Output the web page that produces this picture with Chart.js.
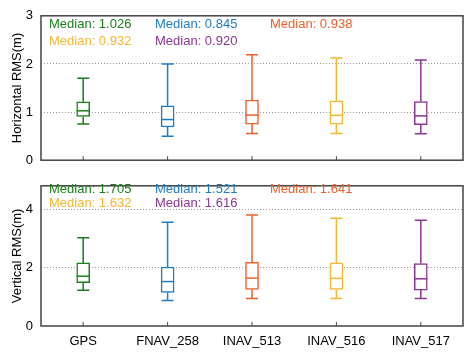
<!DOCTYPE html>
<html>
<head>
<meta charset="utf-8">
<script src="https://cdn.jsdelivr.net/npm/chart.js@4/dist/chart.umd.min.js"></script>
<style>
html,body{margin:0;padding:0;background:#fff;}
#wrap{position:relative;width:474px;height:356px;overflow:hidden;}
#c1{position:absolute;left:0;top:0;}
#c2{position:absolute;left:0;top:170px;}
</style>
</head>
<body>
<div id="wrap">
<canvas id="c1" width="474" height="176"></canvas>
<canvas id="c2" width="474" height="186"></canvas>
</div>
<script>
const categories = ['GPS','FNAV_258','INAV_513','INAV_516','INAV_517'];
const colors = ['#1b7f1b','#1f7cc4','#ee602b','#f5b82e','#8b3595'];

// Horizontal RMS
const hMin    = [0.75, 0.50, 0.556, 0.556, 0.55];
const hQ1     = [0.91, 0.69, 0.75, 0.75, 0.736];
const hMedian = [1.026, 0.845, 0.938, 0.932, 0.920];
const hQ3     = [1.215, 1.13, 1.25, 1.236, 1.22];
const hMax    = [1.70, 2.00, 2.19, 2.125, 2.08];
const hTicks  = [0, 1, 2, 3];

// Vertical RMS
const vMin    = [1.22, 0.87, 0.94, 0.94, 0.94];
const vQ1     = [1.48, 1.15, 1.25, 1.25, 1.23];
const vMedian = [1.705, 1.521, 1.641, 1.632, 1.616];
const vQ3     = [2.16, 2.02, 2.18, 2.16, 2.14];
const vMax    = [3.02, 3.55, 3.80, 3.69, 3.62];
const vTicks  = [0, 2, 4];

const FONT = "'Liberation Sans', Arial, Helvetica, sans-serif";

function boxPlugin(minA, medA, maxA, q1A, q3A, rowY) {
  return {
    id: 'boxextras',
    beforeDatasetsDraw(chart) {
      const ctx = chart.ctx, x = chart.scales.x, y = chart.scales.y;
      ctx.save();
      ctx.lineWidth = 1.5;
      categories.forEach((c, i) => {
        const cx = x.getPixelForValue(i);
        const half = 6;
        ctx.strokeStyle = colors[i];
        ctx.beginPath();
        ctx.moveTo(cx, y.getPixelForValue(q3A[i]));
        ctx.lineTo(cx, y.getPixelForValue(maxA[i]));
        ctx.moveTo(cx, y.getPixelForValue(q1A[i]));
        ctx.lineTo(cx, y.getPixelForValue(minA[i]));
        ctx.moveTo(cx - half, y.getPixelForValue(maxA[i]));
        ctx.lineTo(cx + half, y.getPixelForValue(maxA[i]));
        ctx.moveTo(cx - half, y.getPixelForValue(minA[i]));
        ctx.lineTo(cx + half, y.getPixelForValue(minA[i]));
        ctx.stroke();
      });
      ctx.restore();
    },
    afterDatasetsDraw(chart) {
      const ctx = chart.ctx, x = chart.scales.x, y = chart.scales.y;
      const ca = chart.chartArea;
      ctx.save();
      ctx.lineWidth = 1.5;
      categories.forEach((c, i) => {
        const cx = x.getPixelForValue(i);
        ctx.strokeStyle = colors[i];
        ctx.beginPath();
        const my = y.getPixelForValue(medA[i]);
        ctx.moveTo(cx - 6.5, my);
        ctx.lineTo(cx + 6.5, my);
        ctx.stroke();
      });
      // frame
      ctx.strokeStyle = '#444';
      ctx.lineWidth = 1.5;
      ctx.strokeRect(ca.left, ca.top, ca.right - ca.left, ca.bottom - ca.top);
      // inward x ticks
      ctx.lineWidth = 1;
      ctx.beginPath();
      categories.forEach((c, i) => {
        const cx = x.getPixelForValue(i);
        ctx.moveTo(cx, ca.bottom);
        ctx.lineTo(cx, ca.bottom - 4);
      });
      ctx.stroke();
      // median labels
      ctx.font = '13px ' + FONT;
      ctx.textBaseline = 'middle';
      ctx.textAlign = 'left';
      const colX = [8, 114, 229, 8, 114];
      const rowIdx = [0, 0, 0, 1, 1];
      medA.forEach((m, i) => {
        ctx.fillStyle = colors[i];
        ctx.fillText('Median: ' + m.toFixed(3), ca.left + colX[i], ca.top + rowY[rowIdx[i]]);
      });
      ctx.restore();
    }
  };
}

function makeChart(id, q1A, q3A, minA, medA, maxA, ticksArr, yMax, title, showX, xHeight, rowY) {
  return new Chart(document.getElementById(id), {
    type: 'bar',
    data: {
      labels: categories,
      datasets: [{
        data: q1A.map((q, i) => [q, q3A[i]]),
        backgroundColor: 'rgba(255,255,255,1)',
        borderColor: colors,
        borderWidth: 1.5,
        borderSkipped: false,
        barThickness: 13
      }]
    },
    options: {
      responsive: false,
      animation: false,
      layout: { padding: { top: 15, right: 11, left: 0, bottom: 0 } },
      plugins: { legend: { display: false }, tooltip: { enabled: false } },
      scales: {
        x: {
          grid: { display: false, drawTicks: false },
          border: { display: false },
          ticks: { display: showX, color: '#000', padding: 8, font: { size: 13, family: FONT } },
          afterFit: s => { s.height = xHeight; }
        },
        y: {
          min: 0, max: yMax,
          afterBuildTicks: s => { s.ticks = ticksArr.map(v => ({ value: v })); },
          grid: {
            drawTicks: false,
            color: ctx => (ctx.tick && ctx.tick.value > 0 && ctx.tick.value < yMax) ? '#999' : 'rgba(0,0,0,0)',
            lineWidth: 1
          },
          border: { display: false, dash: [1, 2] },
          ticks: { color: '#000', padding: 8, font: { size: 13, family: FONT } },
          title: { display: true, text: title, color: '#000', font: { size: 13, family: FONT }, padding: { top: 10, bottom: 0 } },
          afterFit: s => { s.width = 41; }
        }
      }
    },
    plugins: [boxPlugin(minA, medA, maxA, q1A, q3A, rowY)]
  });
}

makeChart('c1', hQ1, hQ3, hMin, hMedian, hMax, hTicks, 3, 'Horizontal RMS(m)', false, 5, [9, 26]);
makeChart('c2', vQ1, vQ3, vMin, vMedian, vMax, vTicks, 4.8, 'Vertical RMS(m)', true, 30, [4, 18]);
</script>
</body>
</html>
